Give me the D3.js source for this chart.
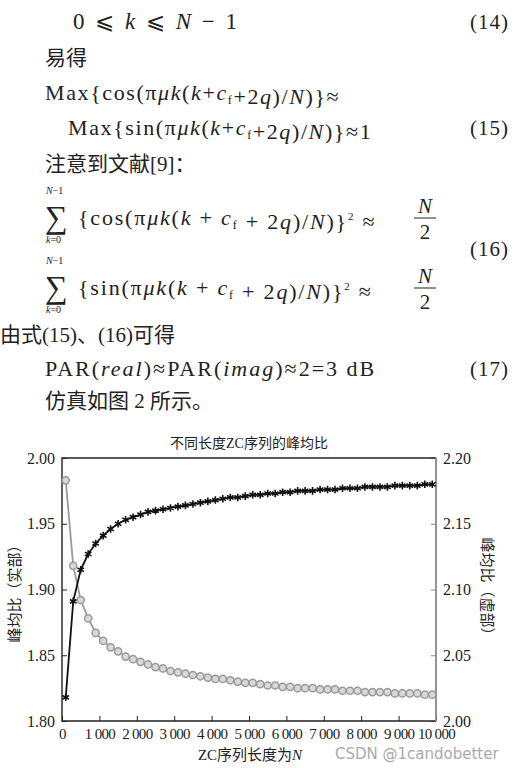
<!DOCTYPE html>
<html><head><meta charset="utf-8">
<script src="https://cdn.jsdelivr.net/npm/d3@7"></script>
<style>
body{margin:0;background:#fff}
text{font-family:"Liberation Serif","Noto Sans CJK SC",serif;fill:#222}
</style></head>
<body><svg id="c" width="522" height="768"></svg>
<script>
const lengths = d3.range(100, 10000, 200);
const parReal = [1.818,1.891,1.915,1.927,1.935,1.941,1.946,1.950,1.953,1.955,
  1.957,1.959,1.960,1.961,1.962,1.963,1.964,1.965,1.966,1.967,
  1.968,1.969,1.970,1.970,1.971,1.972,1.972,1.973,1.973,1.974,
  1.974,1.975,1.975,1.975,1.976,1.976,1.976,1.977,1.977,1.977,
  1.978,1.978,1.978,1.978,1.979,1.979,1.979,1.979,1.980,1.980];
const parImag = [2.183,2.118,2.092,2.078,2.067,2.061,2.056,2.053,2.049,2.047,
  2.045,2.043,2.041,2.040,2.038,2.037,2.036,2.035,2.034,2.033,
  2.032,2.032,2.031,2.030,2.029,2.029,2.028,2.027,2.027,2.026,
  2.026,2.025,2.025,2.025,2.024,2.024,2.024,2.023,2.023,2.023,
  2.022,2.022,2.022,2.022,2.021,2.021,2.021,2.021,2.020,2.020];
const xTicks = d3.range(0, 10001, 1000);
const leftTicks = [1.80, 1.85, 1.90, 1.95, 2.00];
const rightTicks = [2.00, 2.05, 2.10, 2.15, 2.20];

const svg = d3.select('#c');

// --- text lines above the chart
function line(x, y, html, size, ls) {
  return svg.append('text').attr('x', x).attr('y', y).attr('font-size', size || 22)
    .attr('letter-spacing', ls == null ? 1.6 : ls).html(html);
}
const it = s => `<tspan font-style="italic">${s}</tspan>`;
const sub = s => `<tspan font-size="12" dy="4">${s}</tspan><tspan dy="-4"></tspan>`;
line(73, 29, `0 ⩽ ${it('k')} ⩽ ${it('N')} − 1`, 23, 2.5);
line(470, 29, '(14)', 21, 1);
line(45, 65, '易得', 21, 0);
line(45, 100, `Max{cos(π${it('μk')}(${it('k')}+${it('c')}${sub('f')}+2${it('q')})/${it('N')})}≈`);
line(68, 135, `Max{sin(π${it('μk')}(${it('k')}+${it('c')}${sub('f')}+2${it('q')})/${it('N')})}≈1`);
line(470, 135, '(15)', 21, 1);
line(45, 171, '注意到文献[9]：', 21, 0);
[{y: 218, f: 'cos'}, {y: 288, f: 'sin'}].forEach(d => {
  line(45, d.y + 10, '∑', 32, 0);
  line(46, d.y - 24, it('N') + '−1', 10, 0);
  line(46, d.y + 25, it('k') + '=0', 10, 0);
  line(78, d.y + 7, `{${d.f}(π${it('μk')}(${it('k')} + ${it('c')}${sub('f')} + 2${it('q')})/${it('N')})}<tspan font-size="11" dy="-9">2</tspan><tspan dy="9"> ≈</tspan>`, 22, 1.8);
  svg.append('text').attr('x', 425).attr('y', d.y - 5).attr('font-size', 21).attr('text-anchor', 'middle').html(it('N'));
  svg.append('line').attr('x1', 414).attr('x2', 436).attr('y1', d.y).attr('y2', d.y).attr('stroke', '#222');
  svg.append('text').attr('x', 425).attr('y', d.y + 21).attr('font-size', 21).attr('text-anchor', 'middle').text('2');
});
line(470, 256, '(16)', 21, 1);
line(0, 342, '由式(15)、(16)可得', 21, 0);
line(45, 376, `PAR(${it('real')})≈PAR(${it('imag')})≈2=3 dB`, 22, 2);
line(470, 376, '(17)', 21, 1);
line(45, 408, '仿真如图 2 所示。', 21, 0);

// --- chart
const m = {l: 62, r: 436, t: 458, b: 721};
const x = d3.scaleLinear().domain([0, 10000]).range([m.l, m.r]);
const yL = d3.scaleLinear().domain([1.80, 2.00]).range([m.b, m.t]);
const yR = d3.scaleLinear().domain([2.00, 2.20]).range([m.b, m.t]);
const fmtX = d => d >= 1000 ? d3.format(',')(d).replace(',', ' ') : String(d);

const g = svg.append('g');
const styleAxis = (sel, col, size, ls) => {
  sel.select('.domain').remove();
  sel.selectAll('line').attr('stroke', col);
  sel.selectAll('text').attr('font-family', '"Liberation Serif",serif').attr('fill', '#222')
    .attr('font-size', size).attr('letter-spacing', ls);
};
g.append('g').attr('transform', `translate(0,${m.b})`)
  .call(d3.axisBottom(x).tickValues(xTicks).tickFormat(fmtX).tickSizeInner(-5).tickSizeOuter(0).tickPadding(7))
  .call(s => styleAxis(s, '#222', 15, -0.7));
g.append('g').attr('transform', `translate(${m.l},0)`)
  .call(d3.axisLeft(yL).tickValues(leftTicks).tickFormat(d3.format('.2f')).tickSizeInner(-5).tickSizeOuter(0).tickPadding(7))
  .call(s => styleAxis(s, '#222', 16, 0));
g.append('g').attr('transform', `translate(${m.r},0)`)
  .call(d3.axisRight(yR).tickValues(rightTicks).tickFormat(d3.format('.2f')).tickSizeInner(-5).tickSizeOuter(0).tickPadding(7))
  .call(s => styleAxis(s, '#888', 16, 0));
// frame
svg.append('path').attr('d', `M${m.r},${m.t}H${m.l}V${m.b}H${m.r}`).attr('fill', 'none').attr('stroke', '#222').attr('stroke-width', 1.4);
svg.append('line').attr('x1', m.r).attr('x2', m.r).attr('y1', m.t).attr('y2', m.b).attr('stroke', '#888').attr('stroke-width', 1.8);

// gray series (imag)
svg.append('path').datum(parImag)
  .attr('d', d3.line().x((d, i) => x(lengths[i])).y(d => yR(d)))
  .attr('fill', 'none').attr('stroke', '#9a9a9a').attr('stroke-width', 1.8);
svg.selectAll('.ci').data(parImag).join('circle')
  .attr('cx', (d, i) => x(lengths[i])).attr('cy', d => yR(d)).attr('r', 3.6)
  .attr('fill', '#d8d8d8').attr('stroke', '#999').attr('stroke-width', 1.5);

// black series (real)
svg.append('path').datum(parReal)
  .attr('d', d3.line().x((d, i) => x(lengths[i])).y(d => yL(d)))
  .attr('fill', 'none').attr('stroke', '#111').attr('stroke-width', 1.8);
const star = d3.symbol().type(d3.symbolAsterisk).size(40);
svg.selectAll('.st').data(parReal).join('path')
  .attr('transform', (d, i) => `translate(${x(lengths[i])},${yL(d)})`)
  .attr('d', star).attr('fill', 'none').attr('stroke', '#111').attr('stroke-width', 1.6);

// titles
svg.append('text').attr('x', 249).attr('y', 448).attr('text-anchor', 'middle').attr('font-size', 14).text('不同长度ZC序列的峰均比');
svg.append('text').attr('transform', 'translate(20,590) rotate(-90)').attr('text-anchor', 'middle').attr('font-size', 15).text('峰均比（实部）');
svg.append('text').attr('transform', 'translate(482,590) rotate(90)').attr('text-anchor', 'middle').attr('font-size', 15).text('峰均比（虚部）');
svg.append('text').attr('x', 250).attr('y', 760).attr('text-anchor', 'middle').attr('font-size', 15).html('ZC序列长度为<tspan font-style="italic">N</tspan>');
svg.append('text').attr('x', 335).attr('y', 759).attr('font-size', 15).style('font-family', '"DejaVu Sans",sans-serif').style('fill', '#aaa').text('CSDN @1candobetter');
</script></body></html>
